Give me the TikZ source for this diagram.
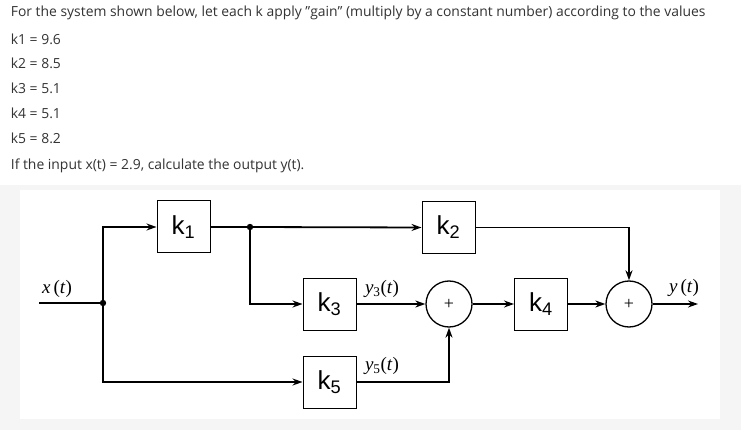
\documentclass[tikz,border=0pt]{standalone}
\usepackage{fontspec}
\setmainfont{Open Sans}
\newfontfamily\myserif{Liberation Serif}
\newfontfamily\hv{Liberation Sans}
\usetikzlibrary{arrows.meta}
\definecolor{txt}{HTML}{333333}
\begin{document}
\begin{tikzpicture}[x=1pt,y=-1pt,
  line width=1.8pt,
  arr/.style={-{Stealth[length=10pt,width=7pt]}},
  blk/.style={draw,line width=1pt,minimum width=53pt,minimum height=52pt,inner sep=0pt,font=\hv\fontsize{26}{26}\selectfont},
  sm/.style={draw,circle,line width=1.3pt,minimum size=46pt,inner sep=0pt,font=\myserif\fontsize{18}{18}\selectfont},
  q/.style={anchor=base west,text=txt,font=\fontsize{13.9}{16}\selectfont,inner sep=0pt},
  lab/.style={font=\myserif\fontsize{19}{19}\selectfont,inner sep=0pt}]
\useasboundingbox (0,0) rectangle (741,430);
\fill[white] (0,0) rectangle (741,430);
\fill[black!4] (0,185) rectangle (741,430);
\fill[white] (20,190) rectangle (720,419);
\node[q] (t1) at (10,17) {For the system shown below, let each k apply "gain" (multiply by a constant number) according to the values};
\node[q] (t2) at (10,45) {k1 = 9.6};
\node[q] (t3) at (10,69) {k2 = 8.5};
\node[q] (t4) at (10,94) {k3 = 5.1};
\node[q] (t5) at (10,119) {k4 = 5.1};
\node[q] (t6) at (10,144) {k5 = 8.2};
\node[q] (t7) at (10,170) {If the input x(t) = 2.9, calculate the output y(t).};

\node[blk] (k1) at (183.5,227) {k\textsubscript{1}};
\node[blk] (k2) at (448.5,227.5) {k\textsubscript{2}};
\node[blk] (k3) at (329.5,304) {k\textsubscript{3}};
\node[blk] (k5) at (329.5,382) {k\textsubscript{5}};
\node[blk] (k4) at (541,304) {k\textsubscript{4}};
\node[sm] (s1) at (449,304) {+};
\node[sm] (s2) at (629,304) {+};
\coordinate (in) at (39,303);
\coordinate (j1) at (103,303);
\coordinate (j2) at (250,227);
\coordinate (out) at (698,304);
\fill (j1) circle (3.2pt);
\fill (j2) circle (3.2pt);
\draw (in) -- (j1);
\draw[arr] (j1) |- (k1.west);
\draw[arr] (j1) |- (k5.west);
\draw (k1.east) -- (j2);
\draw[arr] (j2) -- (k2.west);
\draw[arr] (j2) |- (k3.west);
\draw[arr] (k3.east) -- (s1.west);
\draw[arr] (k5.east) -| (s1.south);
\draw[arr] (s1.east) -- (k4.west);
\draw[arr] (k4.east) -- (s2.west);
\draw[arr] (k2.east) -| (s2.north);
\draw[arr] (s2.east) -- (out);
\node[lab] (lx) at (57,289) {\textit{x}\,(\textit{t})};
\node[lab] (l3) at (382,289) {\textit{y}\textsubscript{3}(\textit{t})};
\node[lab] (l5) at (382,366) {\textit{y}\textsubscript{5}(\textit{t})};
\node[lab] (ly) at (684,288) {\textit{y}\,(\textit{t})};
\end{tikzpicture}
\end{document}
